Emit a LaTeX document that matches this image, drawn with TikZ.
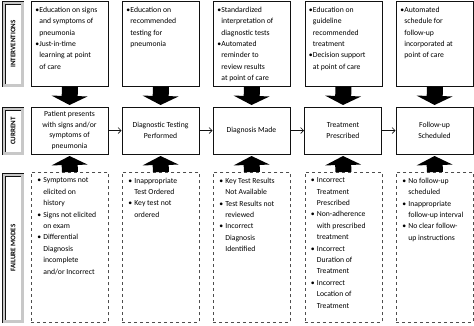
\documentclass[tikz,border=0pt]{standalone}
\usepackage{fontspec}
\setmainfont{Carlito}
\usepackage{xcolor}
\usepackage{tikz}
\usetikzlibrary{arrows.meta,positioning}
\definecolor{blackmain}{HTML}{111111}
\definecolor{graybevel}{HTML}{C8C8C8}
\definecolor{graydash}{HTML}{4D4D4D}
\newcommand{\ib}{\makebox[5pt][l]{\hspace{1pt}\textbullet}}
\newcommand{\ic}{\hspace*{5pt}}
\newcommand{\fb}{\makebox[9pt][l]{\hspace{3pt}\textbullet}}
\newcommand{\fc}{\hspace*{9pt}}
\newcommand{\colbox}[2]{\parbox[t][#1][t]{71pt}{\vspace*{2.5pt}#2}}
\tikzset{every node/.append style={font=\fontsize{7.7}{11.4}\selectfont}}

\begin{document}
\begin{tikzpicture}[x=1pt,y=-1pt,
  sidebox/.style={draw=blackmain,line width=0.5pt,double=graybevel,double distance=2.5pt,
    fill=white,rotate=90,minimum height=18.5pt,inner sep=0pt,
    font=\fontsize{7}{8}\selectfont\bfseries},
  ibox/.style={draw=blackmain,line width=0.8pt,anchor=north west,inner sep=3pt},
  cbox/.style={draw=blackmain,line width=1pt,minimum width=77pt,minimum height=47pt,
    align=center,inner sep=2pt,font=\fontsize{7.7}{10.4}\selectfont},
  fbox/.style={draw=graydash,dashed,line width=0.7pt,anchor=north west,inner sep=3pt},
  flowarrow/.style={draw=blackmain,line width=0.6pt,-{Straight Barb[length=3pt,width=6pt]}},
  blockarrow/.style={draw=black,line width=16pt,
    -{Triangle[width=36pt,length=9pt,line width=0pt]},shorten >=1.5pt}]
  \useasboundingbox (0,0) rectangle (474,325);

  \node[sidebox,minimum width=82.5pt] (labint) at (13,44) {INTERVENTIONS};
  \node[sidebox,minimum width=44.5pt] (labcur) at (13,131) {CURRENT};
  \node[sidebox,minimum width=146.5pt] (labfail) at (13,248) {FAILURE MODES};

  \node[ibox] (int1) at (31,1) {\colbox{79pt}{\ib Education on signs\\\ic and symptoms of\\\ic pneumonia\\
    \ib Just-in-time\\\ic learning at point\\\ic of care}};
  \node[ibox] (int2) at (122,1) {\colbox{79pt}{\ib Education on\\\ic recommended\\\ic testing for\\\ic pneumonia}};
  \node[ibox] (int3) at (213,1) {\colbox{79pt}{\ib Standardized\\\ic interpretation of\\\ic diagnostic tests\\
    \ib Automated\\\ic reminder to\\\ic review results\\\ic at point of care}};
  \node[ibox] (int4) at (304.5,1) {\colbox{79pt}{\ib Education on\\\ic guideline\\\ic recommended\\\ic treatment\\
    \ib Decision support\\\ic at point of care}};
  \node[ibox] (int5) at (396,1) {\colbox{79pt}{\ib Automated\\\ic schedule for\\\ic follow-up\\\ic incorporated at\\
    \ic point of care}};

  \node[cbox] (cur1) at (69.5,130.5) {Patient presents\\with signs and/or\\symptoms of\\pneumonia};
  \node[cbox] (cur2) at (160.5,130.5) {Diagnostic Testing\\Performed};
  \node[cbox] (cur3) at (251.5,130.5) {Diagnosis Made};
  \node[cbox] (cur4) at (343,130.5) {Treatment\\Prescribed};
  \node[cbox] (cur5) at (434.5,130.5) {Follow-up\\Scheduled};

  \node[fbox] (fail1) at (31,172) {\colbox{144pt}{\fb Symptoms not\\\fc elicited on\\\fc history\\
    \fb Signs not elicited\\\fc on exam\\\fb Differential\\\fc Diagnosis\\\fc incomplete\\\fc and/or Incorrect}};
  \node[fbox] (fail2) at (122,172) {\colbox{144pt}{\fb Inappropriate\\\fc Test Ordered\\
    \fb Key test not\\\fc ordered}};
  \node[fbox] (fail3) at (213,172) {\colbox{144pt}{\fb Key Test Results\\\fc Not Available\\
    \fb Test Results not\\\fc reviewed\\\fb Incorrect\\\fc Diagnosis\\\fc Identified}};
  \node[fbox] (fail4) at (304.5,172) {\colbox{144pt}{\fb Incorrect\\\fc Treatment\\\fc Prescribed\\
    \fb Non-adherence\\\fc with prescribed\\\fc treatment\\\fb Incorrect\\\fc Duration of\\\fc Treatment\\
    \fb Incorrect\\\fc Location of\\\fc Treatment}};
  \node[fbox] (fail5) at (396,172) {\colbox{144pt}{\fb No follow-up\\\fc scheduled\\
    \fb Inappropriate\\\fc follow-up interval\\\fb No clear follow-\\\fc up instructions}};

  \draw[flowarrow] (cur1) -- (cur2);
  \draw[flowarrow] (cur2) -- (cur3);
  \draw[flowarrow] (cur3) -- (cur4);
  \draw[flowarrow] (cur4) -- (cur5);

  \draw[blockarrow] (int1.south) -- (cur1.north);
  \draw[blockarrow] (int2.south) -- (cur2.north);
  \draw[blockarrow] (int3.south) -- (cur3.north);
  \draw[blockarrow] (int4.south) -- (cur4.north);
  \draw[blockarrow] (int5.south) -- (cur5.north);
  \draw[blockarrow] (fail1.north) -- (cur1.south);
  \draw[blockarrow] (fail2.north) -- (cur2.south);
  \draw[blockarrow] (fail3.north) -- (cur3.south);
  \draw[blockarrow] (fail4.north) -- (cur4.south);
  \draw[blockarrow] (fail5.north) -- (cur5.south);
\end{tikzpicture}
\end{document}
